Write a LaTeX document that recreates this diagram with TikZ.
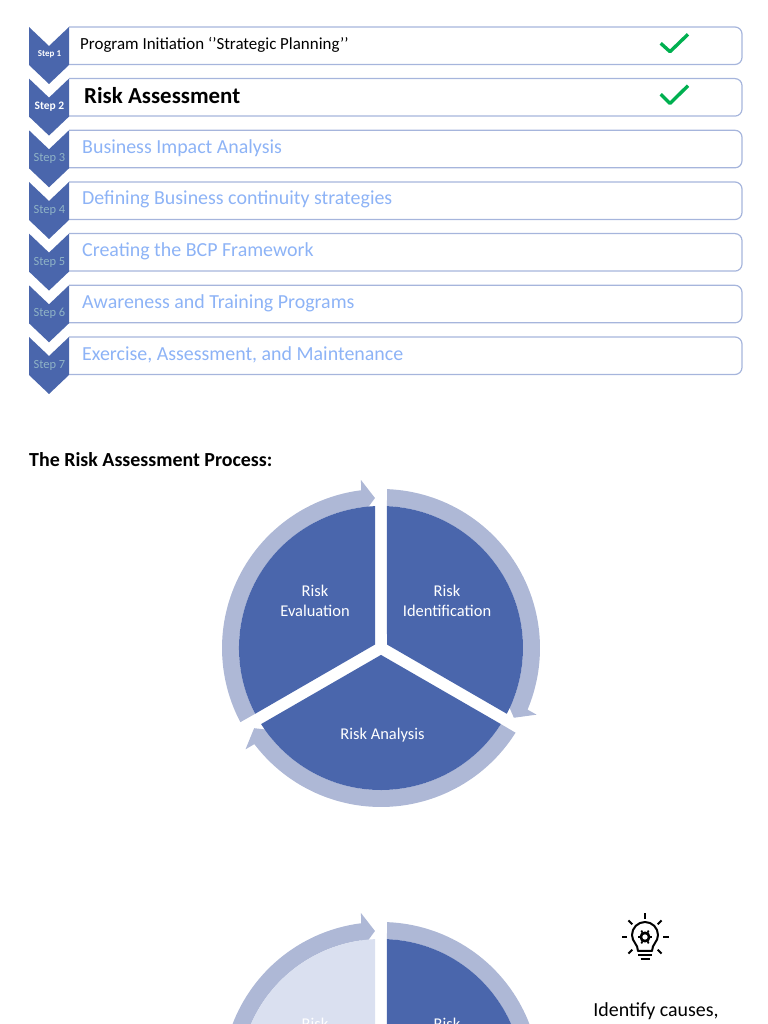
\documentclass[tikz,border=0pt]{standalone}
\usepackage{fontspec}
\setmainfont{Carlito}
\definecolor{riskblue}{HTML}{4A66AC}
\definecolor{ringblue}{HTML}{AEB8D6}
\definecolor{paleblue}{HTML}{DAE0F0}
\definecolor{boxline}{HTML}{A6B5DC}
\definecolor{laterblue}{HTML}{8DB3F6}
\definecolor{latertag}{HTML}{8FB3C6}
\definecolor{tickgreen}{HTML}{00B050}
\tikzset{
  stepbox/.style={draw=boxline,line width=1.2bp,rounded corners=7bp},
  stepnow/.style={anchor=west,inner sep=0pt,text=black},
  steplater/.style={anchor=west,inner sep=0pt,text=laterblue,font=\fontsize{20}{24}\selectfont},
  tagdone/.style={inner sep=0pt,text=white,font=\bfseries\fontsize{11.5}{14}\selectfont},
  taglater/.style={inner sep=0pt,text=latertag,font=\fontsize{12.5}{15}\selectfont},
  tick/.style={draw=tickgreen,line width=3.4bp},
  wedgetext/.style={align=center,inner sep=0pt,text=white,font=\fontsize{16.5}{20}\selectfont},
  riskwedge/.pic={
    \path [pic actions] (6,3.46) -- (87.6:142) arc[start angle=87.6,end angle=-27.6,radius=142] -- cycle;
  },
  riskring/.pic={
    \path [pic actions] (87.8:159) arc[start angle=87.8,end angle=-22.8,radius=159]
      -- (-23.2:169.2) -- (-27.7:150.1) -- (-21.3:132.5) -- (-21.9:142)
      arc[start angle=-21.9,end angle=87.6,radius=142] -- cycle;
  },
}
\begin{document}
\begin{tikzpicture}[x=1bp,y=1bp,line join=bevel]
\path [use as bounding box,clip] (0,0) rectangle (768,1024);
%% steps
\foreach \ytop in {997,945.4,893.7,842,790.4,738.7,687} {
  \draw [stepbox,shift={(0,\ytop)}] (69,0) -- (742,0) -- (742,-37.5) -- (69,-37.5);
  \fill [riskblue,shift={(0,\ytop)}] (29,0) -- (49,-19) -- (69,0) -- (69,-38) -- (49,-57) -- (29,-38) -- cycle;
}
\node (tag_1) at (49.5bp,969.5bp) [tagdone,font=\bfseries\fontsize{9}{11}\selectfont] {Step 1};
\node (tag_2) at (49.5bp,917bp) [tagdone] {Step 2};
\node (tag_3) at (49.5bp,865.5bp) [taglater] {Step 3};
\node (tag_4) at (49.5bp,814bp) [taglater] {Step 4};
\node (tag_5) at (49.5bp,762bp) [taglater] {Step 5};
\node (tag_6) at (49.5bp,710.5bp) [taglater] {Step 6};
\node (tag_7) at (49.5bp,659bp) [taglater] {Step 7};
\node (text_1) at (80bp,979.5bp) [stepnow,font=\fontsize{17}{20}\selectfont] {Program Initiation ‘’Strategic Planning’’};
\node (text_2) at (84bp,928bp) [stepnow,font=\bfseries\fontsize{23}{27}\selectfont] {Risk Assessment};
\node (text_3) at (82bp,876bp) [steplater] {Business Impact Analysis};
\node (text_4) at (82bp,824.5bp) [steplater] {Defining Business continuity strategies};
\node (text_5) at (82bp,773bp) [steplater] {Creating the BCP Framework};
\node (text_6) at (82bp,721bp) [steplater] {Awareness and Training Programs};
\node (text_7) at (82bp,669.5bp) [steplater] {Exercise, Assessment, and Maintenance};
\draw [tick] (660.7,980.7) -- (670,972.3) -- (688,989.7);
\draw [tick] (660.7,929.7) -- (670,920.5) -- (688,938.3);
%% first circle
\node (title) at (29bp,564.5bp) [anchor=west,inner sep=0pt,font=\bfseries\fontsize{20}{24}\selectfont] {The Risk Assessment Process:};
\foreach \turn in {0,-120,-240} {
  \pic at (381,376) [rotate=\turn,fill=ringblue] {riskring};
  \pic at (381,376) [rotate=\turn,fill=riskblue] {riskwedge};
}
\node (identify_a) at (447bp,423bp) [wedgetext] {Risk\\Identification};
\node (analysis_a) at (382.5bp,289bp) [wedgetext] {Risk Analysis};
\node (evaluate_a) at (315bp,423bp) [wedgetext] {Risk\\Evaluation};
%% second circle
\pic at (381,-57) [fill=ringblue] {riskring};
\pic at (381,-57) [fill=riskblue] {riskwedge};
\pic at (381,-57) [rotate=-240,fill=ringblue] {riskring};
\pic at (381,-57) [rotate=-240,fill=paleblue] {riskwedge};
\node (identify_b) at (447bp,-10bp) [wedgetext] {Risk\\Identification};
\node (evaluate_b) at (315bp,-10bp) [wedgetext] {Risk\\Evaluation};
%% bulb
\draw [line width=2bp,line cap=round] (638,73) .. controls (638,80) and (632,82) .. (632,89)
  arc[start angle=180,end angle=0,radius=13] .. controls (658,82) and (652,80) .. (652,73) -- cycle;
\draw [line width=2.6bp] (645,87) circle (4.2);
\foreach \ang in {0,60,...,300} {
  \draw [line width=1.8bp] (645,87) ++(\ang:5) -- ++(\ang:2.4);
}
\foreach \ang in {0,45,135,180,225,315,90} {
  \draw [line width=2bp] (645,87) ++(\ang:18) -- ++(\ang:5.5);
}
\draw [line width=2bp] (638,69) -- (652,69);
\draw [line width=2bp] (640.5,64.5) -- (649.5,64.5);
\node (advice) at (656bp,14.5bp) [anchor=center,inner sep=0pt,align=center,font=\fontsize{20}{29}\selectfont,yshift=-14.5bp] {Identify causes,\\sources and};
\end{tikzpicture}
\end{document}
